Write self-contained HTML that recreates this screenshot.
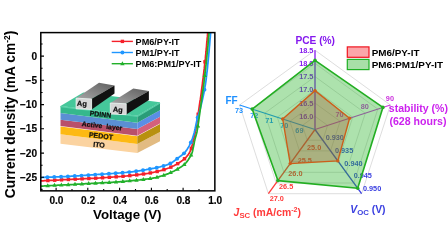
<!DOCTYPE html>
<html lang="en"><head><meta charset="utf-8"><title>J-V curves and radar chart</title>
<style>
html,body{margin:0;padding:0;background:#fff;}
body{width:448px;height:252px;overflow:hidden;}
svg{display:block;}
text{font-family:"Liberation Sans", Arial, Helvetica, sans-serif;font-weight:bold;}
</style></head><body>
<svg width="448" height="252" viewBox="0 0 448 252">
<rect x="0" y="0" width="448" height="252" fill="#ffffff"/>

<defs><clipPath id="pc"><rect x="40.8" y="32.6" width="174.05" height="158.25"/></clipPath></defs>
<g clip-path="url(#pc)">
<path d="M39.0 181.0 L40.4 180.9 L41.8 180.8 L43.3 180.8 L44.7 180.7 L46.1 180.6 L47.6 180.6 L49.0 180.5 L50.4 180.4 L51.9 180.4 L53.3 180.3 L54.7 180.2 L56.2 180.1 L57.6 180.0 L59.0 180.0 L60.5 179.9 L61.9 179.8 L63.3 179.7 L64.8 179.7 L66.2 179.6 L67.6 179.5 L69.1 179.4 L70.5 179.4 L72.0 179.3 L73.4 179.2 L74.8 179.2 L76.3 179.1 L77.7 179.0 L79.1 179.0 L80.6 178.9 L82.0 178.8 L83.4 178.8 L84.9 178.7 L86.3 178.6 L87.7 178.6 L89.2 178.5 L90.6 178.4 L92.0 178.4 L93.5 178.3 L94.9 178.2 L96.3 178.1 L97.8 178.1 L99.2 178.0 L100.6 177.9 L102.1 177.8 L103.5 177.7 L104.9 177.6 L106.4 177.5 L107.8 177.4 L109.2 177.3 L110.7 177.2 L112.1 177.1 L113.5 177.0 L115.0 176.9 L116.4 176.8 L117.8 176.7 L119.3 176.6 L120.7 176.5 L122.1 176.3 L123.6 176.2 L125.0 176.1 L126.4 176.0 L127.9 175.8 L129.3 175.7 L130.7 175.5 L132.1 175.4 L133.6 175.2 L135.0 175.1 L136.4 174.9 L137.9 174.7 L139.3 174.6 L140.7 174.4 L142.1 174.2 L143.6 174.0 L145.0 173.8 L146.4 173.6 L147.8 173.4 L149.2 173.1 L150.6 172.9 L152.1 172.6 L153.5 172.3 L154.9 172.0 L156.3 171.7 L157.7 171.4 L159.1 171.0 L160.5 170.7 L161.8 170.3 L163.2 169.9 L164.6 169.5 L166.0 169.0 L167.3 168.5 L168.7 168.0 L170.0 167.5 L171.3 166.9 L172.6 166.3 L173.9 165.7 L175.2 165.0 L176.5 164.3 L177.7 163.6 L178.9 162.9 L180.1 162.1 L181.3 161.3 L182.5 160.4 L183.6 159.5 L184.7 158.6 L185.7 157.6 L186.7 156.5 L187.6 155.4 L188.5 154.2 L189.3 153.0 L190.0 151.7 L190.6 150.5 L191.1 149.2 L191.5 147.8 L191.8 146.4 L192.2 145.0 L192.5 143.6 L192.9 142.2 L193.2 140.8 L193.6 139.4 L193.9 138.0 L194.3 136.6 L194.6 135.2 L194.9 133.8 L195.2 132.4 L195.5 131.0 L195.8 129.6 L196.0 128.2 L196.3 126.7 L196.5 125.3 L196.7 123.9 L196.9 122.5 L197.2 121.1 L197.4 119.6 L197.6 118.2 L197.8 116.8 L198.0 115.4 L198.2 114.0 L198.4 112.5 L198.6 111.1 L198.8 109.7 L199.0 108.3 L199.2 106.8 L199.4 105.4 L199.6 104.0 L199.8 102.6 L200.0 101.2 L200.3 99.7 L200.5 98.3 L200.7 96.9 L200.9 95.5 L201.1 94.0 L201.3 92.6 L201.4 91.2 L201.6 89.8 L201.8 88.4 L202.0 86.9 L202.2 85.5 L202.4 84.1 L202.6 82.7 L202.7 81.2 L202.9 79.8 L203.1 78.4 L203.3 77.0 L203.4 75.5 L203.6 74.1 L203.8 72.7 L203.9 71.2 L204.1 69.8 L204.3 68.4 L204.4 67.0 L204.6 65.5 L204.7 64.1 L204.9 62.7 L205.1 61.3 L205.2 59.8 L205.4 58.4 L205.5 57.0 L205.6 55.5 L205.8 54.1 L205.9 52.7 L206.1 51.2 L206.2 49.8 L206.3 48.4 L206.5 47.0 L206.6 45.5 L206.7 44.1 L206.8 42.7 L207.0 41.2 L207.1 39.8 L207.2 38.4 L207.4 36.9 L207.5 35.5 L207.6 34.1 L207.7 32.7 L207.9 31.2 L208.0 29.8 L208.1 28.4 L208.3 26.9 L208.4 25.5" fill="none" stroke="#f5202a" stroke-width="1.75" stroke-linejoin="round"/>
<rect x="46.20" y="178.85" width="3.4" height="3.4" fill="#f5202a"/>
<rect x="53.03" y="178.50" width="3.4" height="3.4" fill="#f5202a"/>
<rect x="59.86" y="178.14" width="3.4" height="3.4" fill="#f5202a"/>
<rect x="66.69" y="177.78" width="3.4" height="3.4" fill="#f5202a"/>
<rect x="73.52" y="177.45" width="3.4" height="3.4" fill="#f5202a"/>
<rect x="80.35" y="177.14" width="3.4" height="3.4" fill="#f5202a"/>
<rect x="87.18" y="176.82" width="3.4" height="3.4" fill="#f5202a"/>
<rect x="94.01" y="176.48" width="3.4" height="3.4" fill="#f5202a"/>
<rect x="100.84" y="176.08" width="3.4" height="3.4" fill="#f5202a"/>
<rect x="107.67" y="175.62" width="3.4" height="3.4" fill="#f5202a"/>
<rect x="114.50" y="175.11" width="3.4" height="3.4" fill="#f5202a"/>
<rect x="121.33" y="174.56" width="3.4" height="3.4" fill="#f5202a"/>
<rect x="128.16" y="173.92" width="3.4" height="3.4" fill="#f5202a"/>
<rect x="134.99" y="173.18" width="3.4" height="3.4" fill="#f5202a"/>
<rect x="141.82" y="172.30" width="3.4" height="3.4" fill="#f5202a"/>
<rect x="148.65" y="171.24" width="3.4" height="3.4" fill="#f5202a"/>
<rect x="155.48" y="169.81" width="3.4" height="3.4" fill="#f5202a"/>
<rect x="162.31" y="167.94" width="3.4" height="3.4" fill="#f5202a"/>
<rect x="169.14" y="165.45" width="3.4" height="3.4" fill="#f5202a"/>
<rect x="175.97" y="161.95" width="3.4" height="3.4" fill="#f5202a"/>
<rect x="182.80" y="157.08" width="3.4" height="3.4" fill="#f5202a"/>
<rect x="189.63" y="146.62" width="3.4" height="3.4" fill="#f5202a"/>
<rect x="196.46" y="112.56" width="3.4" height="3.4" fill="#f5202a"/>
<rect x="203.29" y="60.13" width="3.4" height="3.4" fill="#f5202a"/>
<path d="M38.9 177.6 L40.4 177.5 L41.8 177.5 L43.2 177.4 L44.6 177.3 L46.0 177.2 L47.4 177.2 L48.8 177.1 L50.2 177.1 L51.7 177.0 L53.1 177.0 L54.5 176.9 L55.9 176.9 L57.3 176.8 L58.7 176.8 L60.1 176.7 L61.6 176.7 L63.0 176.6 L64.4 176.5 L65.8 176.5 L67.2 176.4 L68.6 176.4 L70.0 176.3 L71.5 176.2 L72.9 176.1 L74.3 176.1 L75.7 176.0 L77.1 175.9 L78.5 175.8 L79.9 175.7 L81.3 175.6 L82.7 175.5 L84.2 175.4 L85.6 175.3 L87.0 175.2 L88.4 175.1 L89.8 175.0 L91.2 174.9 L92.6 174.8 L94.0 174.7 L95.5 174.6 L96.9 174.5 L98.3 174.4 L99.7 174.4 L101.1 174.3 L102.5 174.2 L103.9 174.1 L105.3 174.0 L106.7 173.9 L108.2 173.8 L109.6 173.7 L111.0 173.6 L112.4 173.5 L113.8 173.4 L115.2 173.3 L116.6 173.2 L118.0 173.1 L119.4 173.0 L120.9 172.8 L122.3 172.7 L123.7 172.6 L125.1 172.5 L126.5 172.4 L127.9 172.2 L129.3 172.1 L130.7 171.9 L132.1 171.8 L133.5 171.6 L134.9 171.4 L136.3 171.2 L137.7 171.0 L139.1 170.8 L140.5 170.6 L141.9 170.4 L143.3 170.2 L144.7 169.9 L146.1 169.7 L147.5 169.4 L148.9 169.2 L150.3 168.9 L151.7 168.7 L153.1 168.4 L154.5 168.2 L155.9 167.9 L157.2 167.6 L158.6 167.2 L160.0 166.9 L161.4 166.5 L162.7 166.2 L164.1 165.8 L165.5 165.3 L166.8 164.9 L168.2 164.4 L169.4 163.9 L170.7 163.3 L171.9 162.6 L173.1 161.8 L174.2 160.9 L175.4 160.1 L176.5 159.2 L177.6 158.3 L178.7 157.5 L179.9 156.6 L181.1 155.8 L182.2 154.9 L183.3 154.0 L184.3 153.0 L185.2 152.0 L186.0 150.9 L186.9 149.8 L187.6 148.6 L188.4 147.3 L189.1 146.1 L189.7 144.8 L190.3 143.5 L190.9 142.2 L191.5 140.9 L192.0 139.6 L192.5 138.3 L193.0 136.9 L193.4 135.6 L193.8 134.2 L194.2 132.8 L194.5 131.5 L194.9 130.1 L195.2 128.7 L195.5 127.3 L195.7 125.9 L196.0 124.6 L196.3 123.2 L196.6 121.8 L196.9 120.4 L197.2 119.0 L197.6 117.7 L198.0 116.3 L198.4 115.0 L198.9 113.6 L199.3 112.3 L199.7 110.9 L200.1 109.5 L200.4 108.2 L200.7 106.8 L201.1 105.4 L201.4 104.0 L201.7 102.7 L202.1 101.3 L202.4 99.9 L202.7 98.5 L203.0 97.1 L203.3 95.7 L203.6 94.4 L203.9 93.0 L204.1 91.6 L204.4 90.2 L204.6 88.8 L204.9 87.4 L205.1 86.0 L205.4 84.6 L205.6 83.2 L205.8 81.8 L206.0 80.4 L206.2 79.0 L206.3 77.6 L206.5 76.2 L206.7 74.8 L206.8 73.4 L207.0 72.0 L207.2 70.6 L207.3 69.2 L207.5 67.8 L207.6 66.4 L207.7 65.0 L207.9 63.6 L208.0 62.1 L208.2 60.7 L208.3 59.3 L208.4 57.9 L208.6 56.5 L208.7 55.1 L208.8 53.7 L209.0 52.3 L209.1 50.9 L209.2 49.5 L209.3 48.1 L209.4 46.6 L209.6 45.2 L209.7 43.8 L209.8 42.4 L209.9 41.0 L210.0 39.6 L210.2 38.2 L210.3 36.8 L210.4 35.4 L210.5 34.0 L210.7 32.5 L210.8 31.1 L210.9 29.7 L211.0 28.3 L211.2 26.9 L211.3 25.5" fill="none" stroke="#1e96ff" stroke-width="1.75" stroke-linejoin="round"/>
<circle cx="47.40" cy="177.18" r="1.95" fill="#1e96ff"/>
<circle cx="54.23" cy="176.92" r="1.95" fill="#1e96ff"/>
<circle cx="61.06" cy="176.68" r="1.95" fill="#1e96ff"/>
<circle cx="67.89" cy="176.40" r="1.95" fill="#1e96ff"/>
<circle cx="74.72" cy="176.04" r="1.95" fill="#1e96ff"/>
<circle cx="81.55" cy="175.61" r="1.95" fill="#1e96ff"/>
<circle cx="88.38" cy="175.14" r="1.95" fill="#1e96ff"/>
<circle cx="95.21" cy="174.66" r="1.95" fill="#1e96ff"/>
<circle cx="102.04" cy="174.20" r="1.95" fill="#1e96ff"/>
<circle cx="108.87" cy="173.74" r="1.95" fill="#1e96ff"/>
<circle cx="115.70" cy="173.25" r="1.95" fill="#1e96ff"/>
<circle cx="122.53" cy="172.71" r="1.95" fill="#1e96ff"/>
<circle cx="129.36" cy="172.08" r="1.95" fill="#1e96ff"/>
<circle cx="136.19" cy="171.24" r="1.95" fill="#1e96ff"/>
<circle cx="143.02" cy="170.20" r="1.95" fill="#1e96ff"/>
<circle cx="149.85" cy="169.03" r="1.95" fill="#1e96ff"/>
<circle cx="156.68" cy="167.69" r="1.95" fill="#1e96ff"/>
<circle cx="163.51" cy="165.95" r="1.95" fill="#1e96ff"/>
<circle cx="170.34" cy="163.44" r="1.95" fill="#1e96ff"/>
<circle cx="177.17" cy="158.64" r="1.95" fill="#1e96ff"/>
<circle cx="184.00" cy="153.35" r="1.95" fill="#1e96ff"/>
<circle cx="190.83" cy="142.42" r="1.95" fill="#1e96ff"/>
<circle cx="197.66" cy="117.45" r="1.95" fill="#1e96ff"/>
<circle cx="204.49" cy="89.66" r="1.95" fill="#1e96ff"/>
<path d="M39.0 186.2 L40.4 186.1 L41.9 186.0 L43.4 186.0 L44.8 185.9 L46.3 185.8 L47.7 185.7 L49.2 185.6 L50.7 185.6 L52.1 185.5 L53.6 185.4 L55.1 185.3 L56.5 185.3 L58.0 185.2 L59.5 185.1 L60.9 185.1 L62.4 185.0 L63.8 184.9 L65.3 184.8 L66.8 184.8 L68.2 184.7 L69.7 184.6 L71.2 184.5 L72.6 184.5 L74.1 184.4 L75.5 184.3 L77.0 184.2 L78.5 184.1 L79.9 184.1 L81.4 184.0 L82.9 183.9 L84.3 183.8 L85.8 183.7 L87.3 183.7 L88.7 183.6 L90.2 183.5 L91.6 183.4 L93.1 183.3 L94.6 183.2 L96.0 183.2 L97.5 183.1 L99.0 183.0 L100.4 182.9 L101.9 182.8 L103.3 182.8 L104.8 182.7 L106.3 182.6 L107.7 182.5 L109.2 182.5 L110.7 182.4 L112.1 182.3 L113.6 182.2 L115.0 182.1 L116.5 182.0 L118.0 181.9 L119.4 181.8 L120.9 181.6 L122.3 181.5 L123.8 181.4 L125.3 181.3 L126.7 181.1 L128.2 181.0 L129.6 180.8 L131.1 180.7 L132.6 180.6 L134.0 180.4 L135.5 180.3 L136.9 180.2 L138.4 180.0 L139.9 179.9 L141.3 179.7 L142.8 179.5 L144.2 179.4 L145.7 179.2 L147.1 179.0 L148.6 178.8 L150.0 178.6 L151.5 178.4 L152.9 178.1 L154.3 177.8 L155.8 177.5 L157.2 177.1 L158.6 176.8 L160.0 176.4 L161.4 176.0 L162.8 175.6 L164.2 175.1 L165.6 174.6 L167.0 174.1 L168.4 173.6 L169.7 173.0 L171.1 172.4 L172.4 171.8 L173.7 171.2 L175.0 170.5 L176.3 169.8 L177.6 169.1 L178.8 168.3 L180.1 167.5 L181.3 166.8 L182.6 165.9 L183.7 165.0 L184.8 164.1 L185.8 163.0 L186.7 161.9 L187.6 160.7 L188.5 159.5 L189.2 158.2 L190.0 157.0 L190.8 155.7 L191.4 154.4 L191.9 153.1 L192.4 151.7 L192.7 150.3 L193.0 148.9 L193.3 147.4 L193.6 146.0 L193.9 144.5 L194.2 143.1 L194.4 141.6 L194.8 140.2 L195.1 138.7 L195.5 137.3 L195.9 135.9 L196.3 134.5 L196.7 133.1 L197.0 131.7 L197.2 130.2 L197.5 128.8 L197.7 127.4 L198.0 125.9 L198.2 124.5 L198.4 123.0 L198.6 121.6 L198.8 120.1 L199.0 118.7 L199.2 117.2 L199.4 115.7 L199.6 114.3 L199.8 112.8 L200.0 111.4 L200.2 109.9 L200.4 108.5 L200.6 107.0 L200.8 105.6 L201.0 104.1 L201.2 102.7 L201.4 101.2 L201.6 99.8 L201.8 98.3 L202.0 96.9 L202.2 95.4 L202.4 94.0 L202.6 92.5 L202.8 91.1 L203.0 89.6 L203.2 88.2 L203.4 86.7 L203.6 85.3 L203.8 83.8 L204.0 82.3 L204.1 80.9 L204.3 79.4 L204.5 78.0 L204.7 76.5 L204.8 75.1 L205.0 73.6 L205.2 72.2 L205.3 70.7 L205.5 69.2 L205.7 67.8 L205.8 66.3 L206.0 64.9 L206.1 63.4 L206.3 62.0 L206.4 60.5 L206.6 59.1 L206.7 57.6 L206.9 56.1 L207.0 54.7 L207.2 53.2 L207.3 51.8 L207.5 50.3 L207.6 48.8 L207.7 47.4 L207.9 45.9 L208.0 44.5 L208.1 43.0 L208.2 41.5 L208.4 40.1 L208.5 38.6 L208.6 37.2 L208.8 35.7 L208.9 34.3 L209.0 32.8 L209.2 31.3 L209.3 29.9 L209.4 28.4 L209.6 27.0 L209.7 25.5" fill="none" stroke="#22b02a" stroke-width="1.75" stroke-linejoin="round"/>
<path d="M47.70 183.22L49.90 187.22L45.50 187.22Z" fill="#22b02a"/>
<path d="M54.53 182.87L56.73 186.87L52.33 186.87Z" fill="#22b02a"/>
<path d="M61.36 182.54L63.56 186.54L59.16 186.54Z" fill="#22b02a"/>
<path d="M68.19 182.20L70.39 186.20L65.99 186.20Z" fill="#22b02a"/>
<path d="M75.02 181.83L77.22 185.83L72.82 185.83Z" fill="#22b02a"/>
<path d="M81.85 181.45L84.05 185.45L79.65 185.45Z" fill="#22b02a"/>
<path d="M88.68 181.07L90.88 185.07L86.48 185.07Z" fill="#22b02a"/>
<path d="M95.51 180.69L97.71 184.69L93.31 184.69Z" fill="#22b02a"/>
<path d="M102.34 180.32L104.54 184.32L100.14 184.32Z" fill="#22b02a"/>
<path d="M109.17 179.95L111.37 183.95L106.97 183.95Z" fill="#22b02a"/>
<path d="M116.00 179.53L118.20 183.53L113.80 183.53Z" fill="#22b02a"/>
<path d="M122.83 178.98L125.03 182.98L120.63 182.98Z" fill="#22b02a"/>
<path d="M129.66 178.34L131.86 182.34L127.46 182.34Z" fill="#22b02a"/>
<path d="M136.49 177.69L138.69 181.69L134.29 181.69Z" fill="#22b02a"/>
<path d="M143.32 176.98L145.52 180.98L141.12 180.98Z" fill="#22b02a"/>
<path d="M150.15 176.08L152.35 180.08L147.95 180.08Z" fill="#22b02a"/>
<path d="M156.98 174.68L159.18 178.68L154.78 178.68Z" fill="#22b02a"/>
<path d="M163.81 172.75L166.01 176.75L161.61 176.75Z" fill="#22b02a"/>
<path d="M170.64 170.12L172.84 174.12L168.44 174.12Z" fill="#22b02a"/>
<path d="M177.47 166.63L179.67 170.63L175.27 170.63Z" fill="#22b02a"/>
<path d="M184.30 162.05L186.50 166.05L182.10 166.05Z" fill="#22b02a"/>
<path d="M191.13 152.51L193.33 156.51L188.93 156.51Z" fill="#22b02a"/>
<path d="M197.96 123.57L200.16 127.57L195.76 127.57Z" fill="#22b02a"/>
<path d="M204.79 72.90L206.99 76.90L202.59 76.90Z" fill="#22b02a"/>
</g>
<polygon points="60.5,134.2 137.3,144.0 137.3,153.0 60.5,143.8" fill="#fbd3a0"/>
<polygon points="137.3,144.0 160.0,131.9 160.0,141.2 137.3,153.0" fill="#e2bb82"/>
<polygon points="60.5,126.4 137.3,136.2 137.3,144.0 60.5,134.2" fill="#fdb913"/>
<polygon points="137.3,136.2 160.0,123.9 160.0,131.9 137.3,144.0" fill="#b8900f"/>
<polygon points="60.5,119.7 137.3,129.0 137.3,135.8 60.5,126.1" fill="#b9506a"/>
<polygon points="137.3,129.0 160.0,116.7 160.0,123.6 137.3,135.8" fill="#d4607c"/>
<polygon points="60.5,113.0 137.3,122.8 137.3,129.0 60.5,119.7" fill="#5b8fd4"/>
<polygon points="137.3,122.8 160.0,110.2 160.0,116.7 137.3,129.0" fill="#5a8ee6"/>
<polygon points="60.5,106.0 137.3,115.8 137.3,122.8 60.5,113.0" fill="#35b88c"/>
<polygon points="137.3,115.8 160.0,102.3 160.0,110.2 137.3,122.8" fill="#2a9c78"/>
<polygon points="60.5,106.0 83.2,92.5 160.0,102.3 137.3,115.8" fill="#45c79a"/>
<path d="M60.5 106.6L137.3 116.4L160.0 102.9" fill="none" stroke="#58d0a8" stroke-width="1.2" stroke-linejoin="round"/>
<defs><linearGradient id="eg" x1="0" y1="1" x2="1" y2="0"><stop offset="0" stop-color="#a6a6a6"/><stop offset="1" stop-color="#5e5e5e"/></linearGradient></defs>
<polygon points="76.1,98.2 99.0,82.7 114.5,85.4 91.6,99.0" fill="url(#eg)"/>
<polygon points="91.6,99.0 114.5,85.4 114.5,93.5 91.6,109.4" fill="#111"/>
<polygon points="76.1,98.2 91.6,99.0 91.6,109.4 76.1,108.8" fill="#d6d6d6" stroke="#f4f4f4" stroke-width="0.8"/>
<polygon points="110.3,103.0 133.3,88.4 148.9,91.1 126.2,103.8" fill="url(#eg)"/>
<polygon points="126.2,103.8 148.9,91.1 148.9,99.9 126.2,114.6" fill="#111"/>
<polygon points="110.3,103.0 126.2,103.8 126.2,114.6 110.3,114.0" fill="#d6d6d6" stroke="#f4f4f4" stroke-width="0.8"/>
<text x="81.8" y="106.0" font-size="7.4" text-anchor="middle" fill="#111" stroke="#111" stroke-width="0.22" transform="rotate(4 81.8 106.0)" style="white-space:pre">Ag</text>
<text x="117.6" y="112.2" font-size="7.4" text-anchor="middle" fill="#111" stroke="#111" stroke-width="0.22" transform="rotate(4 117.6 112.2)" style="white-space:pre">Ag</text>
<text x="100.2" y="116.7" font-size="6.9" text-anchor="middle" fill="#111" stroke="#111" stroke-width="0.22" transform="rotate(6.5 100.2 116.7)" style="white-space:pre">PDINN</text>
<text x="101.8" y="128.2" font-size="6.9" text-anchor="middle" fill="#111" stroke="#111" stroke-width="0.22" transform="rotate(6.5 101.8 128.2)" style="white-space:pre">Active  layer</text>
<text x="100.7" y="138.4" font-size="7.0" text-anchor="middle" fill="#111" stroke="#111" stroke-width="0.22" transform="rotate(6.5 100.7 138.4)" style="white-space:pre">PEDOT</text>
<text x="98.8" y="147.3" font-size="7.1" text-anchor="middle" fill="#111" stroke="#111" stroke-width="0.22" transform="rotate(6.5 98.8 147.3)" style="white-space:pre">ITO</text>
<rect x="40.8" y="32.6" width="174.05" height="158.25" fill="none" stroke="#000" stroke-width="1.5"/>
<path d="M56.1 190.85v-3.2 M72.0 190.85v-1.8 M87.8 190.85v-3.2 M103.7 190.85v-1.8 M119.6 190.85v-3.2 M135.5 190.85v-1.8 M151.4 190.85v-3.2 M167.2 190.85v-1.8 M183.1 190.85v-3.2 M199.0 190.85v-1.8 M40.8 189.4h1.8 M40.8 177.3h3.2 M40.8 165.2h1.8 M40.8 153.1h3.2 M40.8 140.9h1.8 M40.8 128.8h3.2 M40.8 116.7h1.8 M40.8 104.6h3.2 M40.8 92.5h1.8 M40.8 80.3h3.2 M40.8 68.2h1.8 M40.8 56.1h3.2 M40.8 44.0h1.8" stroke="#000" stroke-width="1.1" fill="none"/>
<text x="56.4" y="203.8" font-size="10.1" text-anchor="middle" fill="#000" stroke="#000" stroke-width="0.15">0.0</text>
<text x="88.1" y="203.8" font-size="10.1" text-anchor="middle" fill="#000" stroke="#000" stroke-width="0.15">0.2</text>
<text x="119.9" y="203.8" font-size="10.1" text-anchor="middle" fill="#000" stroke="#000" stroke-width="0.15">0.4</text>
<text x="151.7" y="203.8" font-size="10.1" text-anchor="middle" fill="#000" stroke="#000" stroke-width="0.15">0.6</text>
<text x="183.4" y="203.8" font-size="10.1" text-anchor="middle" fill="#000" stroke="#000" stroke-width="0.15">0.8</text>
<text x="215.2" y="203.8" font-size="10.1" text-anchor="middle" fill="#000" stroke="#000" stroke-width="0.15">1.0</text>
<text x="37.0" y="59.7" font-size="10.1" text-anchor="end" fill="#000" stroke="#000" stroke-width="0.15">0</text>
<text x="37.0" y="83.9" font-size="10.1" text-anchor="end" fill="#000" stroke="#000" stroke-width="0.15">−5</text>
<text x="37.0" y="108.2" font-size="10.1" text-anchor="end" fill="#000" stroke="#000" stroke-width="0.15">−10</text>
<text x="37.0" y="132.4" font-size="10.1" text-anchor="end" fill="#000" stroke="#000" stroke-width="0.15">−15</text>
<text x="37.0" y="156.7" font-size="10.1" text-anchor="end" fill="#000" stroke="#000" stroke-width="0.15">−20</text>
<text x="37.0" y="180.9" font-size="10.1" text-anchor="end" fill="#000" stroke="#000" stroke-width="0.15">−25</text>
<text x="127.3" y="218.5" font-size="13.3" text-anchor="middle" fill="#000">Voltage (V)</text>
<text transform="translate(14.9 114.4) rotate(-90)" font-size="13.75" text-anchor="middle" fill="#000">Current density (mA cm<tspan font-size="8.5" dy="-4.5">-2</tspan><tspan dy="4.5">)</tspan></text>
<path d="M111.7 41.4H132.9" stroke="#f5202a" stroke-width="1.4"/>
<rect x="120.70" y="39.70" width="3.4" height="3.4" fill="#f5202a"/>
<text x="135.6" y="44.5" font-size="9.1" fill="#000">PM6/PY-IT</text>
<path d="M111.7 52.5H132.9" stroke="#1e96ff" stroke-width="1.4"/>
<circle cx="122.40" cy="52.50" r="1.95" fill="#1e96ff"/>
<text x="135.6" y="55.6" font-size="9.1" fill="#000">PM1/PY-IT</text>
<path d="M111.7 63.7H132.9" stroke="#22b02a" stroke-width="1.4"/>
<path d="M122.40 61.20L124.60 65.20L120.20 65.20Z" fill="#22b02a"/>
<text x="135.6" y="66.8" font-size="9.1" fill="#000">PM6:PM1/PY-IT</text>
<path d="M315.0 116.3 L327.6 125.4 L322.8 140.2 L307.2 140.2 L302.4 125.4Z M315.0 103.1 L340.1 121.3 L330.5 150.9 L299.5 150.9 L289.9 121.3Z M315.0 89.8 L352.7 117.2 L338.3 161.6 L291.7 161.6 L277.3 117.2Z M315.0 76.6 L365.3 113.2 L346.1 172.3 L283.9 172.3 L264.7 113.2Z M315.0 63.4 L377.8 109.1 L353.8 183.0 L276.2 183.0 L252.2 109.1Z M315.0 50.2 L390.4 105.0 L361.6 193.7 L268.4 193.7 L239.6 105.0Z" fill="none" stroke="#cfcfcf" stroke-width="0.7"/>
<path d="M315.0 129.5L315.0 50.2" stroke="#8418ee" stroke-width="1.3"/>
<path d="M315.0 129.5L390.4 105.0" stroke="#cc33dd" stroke-width="1.3"/>
<path d="M315.0 129.5L361.6 193.7" stroke="#3a3fe0" stroke-width="1.3"/>
<path d="M315.0 129.5L268.4 193.7" stroke="#ff3b3b" stroke-width="1.3"/>
<path d="M315.0 129.5L239.6 105.0" stroke="#1e90ff" stroke-width="1.3"/>
<text x="313.4" y="52.8" font-size="7.3" text-anchor="end" fill="#8418ee">18.5</text>
<text x="313.4" y="66.0" font-size="7.3" text-anchor="end" fill="#8418ee">18.0</text>
<text x="313.4" y="79.2" font-size="7.3" text-anchor="end" fill="#8418ee">17.5</text>
<text x="313.4" y="92.4" font-size="7.3" text-anchor="end" fill="#8418ee">17.0</text>
<text x="313.4" y="105.7" font-size="7.3" text-anchor="end" fill="#8418ee">16.5</text>
<text x="313.4" y="118.9" font-size="7.3" text-anchor="end" fill="#8418ee">16.0</text>
<text x="339.6" y="117.4" font-size="7.3" text-anchor="middle" fill="#cc33dd">70</text>
<text x="364.8" y="109.3" font-size="7.3" text-anchor="middle" fill="#cc33dd">80</text>
<text x="389.9" y="101.1" font-size="7.3" text-anchor="middle" fill="#cc33dd">90</text>
<text x="334.8" y="139.8" font-size="7.3" text-anchor="middle" fill="#3a3fe0">0.930</text>
<text x="344.1" y="152.7" font-size="7.3" text-anchor="middle" fill="#3a3fe0">0.935</text>
<text x="353.5" y="165.5" font-size="7.3" text-anchor="middle" fill="#3a3fe0">0.940</text>
<text x="362.8" y="178.3" font-size="7.3" text-anchor="middle" fill="#3a3fe0">0.945</text>
<text x="372.1" y="191.2" font-size="7.3" text-anchor="middle" fill="#3a3fe0">0.950</text>
<text x="314.1" y="150.0" font-size="7.3" text-anchor="middle" fill="#ff3b3b">25.0</text>
<text x="304.8" y="162.9" font-size="7.3" text-anchor="middle" fill="#ff3b3b">25.5</text>
<text x="295.4" y="175.7" font-size="7.3" text-anchor="middle" fill="#ff3b3b">26.0</text>
<text x="286.1" y="188.5" font-size="7.3" text-anchor="middle" fill="#ff3b3b">26.5</text>
<text x="276.8" y="201.4" font-size="7.3" text-anchor="middle" fill="#ff3b3b">27.0</text>
<text x="299.4" y="132.9" font-size="7.3" text-anchor="middle" fill="#1e90ff">69</text>
<text x="284.3" y="128.0" font-size="7.3" text-anchor="middle" fill="#1e90ff">70</text>
<text x="269.2" y="123.1" font-size="7.3" text-anchor="middle" fill="#1e90ff">71</text>
<text x="254.2" y="118.2" font-size="7.3" text-anchor="middle" fill="#1e90ff">72</text>
<text x="239.1" y="113.3" font-size="7.3" text-anchor="middle" fill="#1e90ff">73</text>
<polygon points="315.0,90.6 349.6,118.3 337.8,160.9 290.2,163.6 282.7,119.0" fill="#f02030" fill-opacity="0.35"/>
<polygon points="315.0,60.4 382.9,107.4 357.7,188.3 277.9,180.6 252.2,109.1" fill="#28b428" fill-opacity="0.38"/>
<polygon points="315.0,90.6 349.6,118.3 337.8,160.9 290.2,163.6 282.7,119.0" fill="none" stroke="#cc5f1a" stroke-width="1.4" stroke-linejoin="round"/>
<circle cx="315.0" cy="90.6" r="1.7" fill="#cc5f1a"/>
<circle cx="349.6" cy="118.3" r="1.7" fill="#cc5f1a"/>
<circle cx="337.8" cy="160.9" r="1.7" fill="#cc5f1a"/>
<circle cx="290.2" cy="163.6" r="1.7" fill="#cc5f1a"/>
<circle cx="282.7" cy="119.0" r="1.7" fill="#cc5f1a"/>
<polygon points="315.0,60.4 382.9,107.4 357.7,188.3 277.9,180.6 252.2,109.1" fill="none" stroke="#22ae22" stroke-width="1.6" stroke-linejoin="round"/>
<circle cx="315.0" cy="60.4" r="1.8" fill="#22ae22"/>
<circle cx="382.9" cy="107.4" r="1.8" fill="#22ae22"/>
<circle cx="357.7" cy="188.3" r="1.8" fill="#22ae22"/>
<circle cx="277.9" cy="180.6" r="1.8" fill="#22ae22"/>
<circle cx="252.2" cy="109.1" r="1.8" fill="#22ae22"/>
<text x="315.2" y="43.9" font-size="10.2" text-anchor="middle" fill="#8418ee">PCE (%)</text>
<text x="448.0" y="112.0" font-size="10.55" text-anchor="end" fill="#cc22ee">stability (%)</text>
<text x="418" y="125.0" font-size="10.6" text-anchor="middle" fill="#cc22ee">(628 hours)</text>
<text x="231.6" y="104" font-size="10" text-anchor="middle" fill="#1e90ff">FF</text>
<text x="233.6" y="215.7" font-size="10.4" fill="#ff3b3b"><tspan font-style="italic">J</tspan><tspan font-size="7.8" dy="2">SC</tspan><tspan dy="-2"> (mA/cm</tspan><tspan font-size="7" dy="-4">-2</tspan><tspan dy="4">)</tspan></text>
<text x="350.2" y="212.8" font-size="10.4" fill="#3a3fe0"><tspan font-style="italic">V</tspan><tspan font-size="7.8" dy="2">OC</tspan><tspan dy="-2"> (V)</tspan></text>
<rect x="347.3" y="46.9" width="21.7" height="10.4" fill="#fba6aa" stroke="#f0141e" stroke-width="1.2"/>
<rect x="347.3" y="59.4" width="21.7" height="10.2" fill="#a8dfa8" stroke="#1fb024" stroke-width="1.2"/>
<text x="371.7" y="55.7" font-size="9.9" fill="#000">PM6/PY-IT</text>
<text x="371.7" y="67.9" font-size="9.9" fill="#000">PM6:PM1/PY-IT</text>
</svg></body></html>
